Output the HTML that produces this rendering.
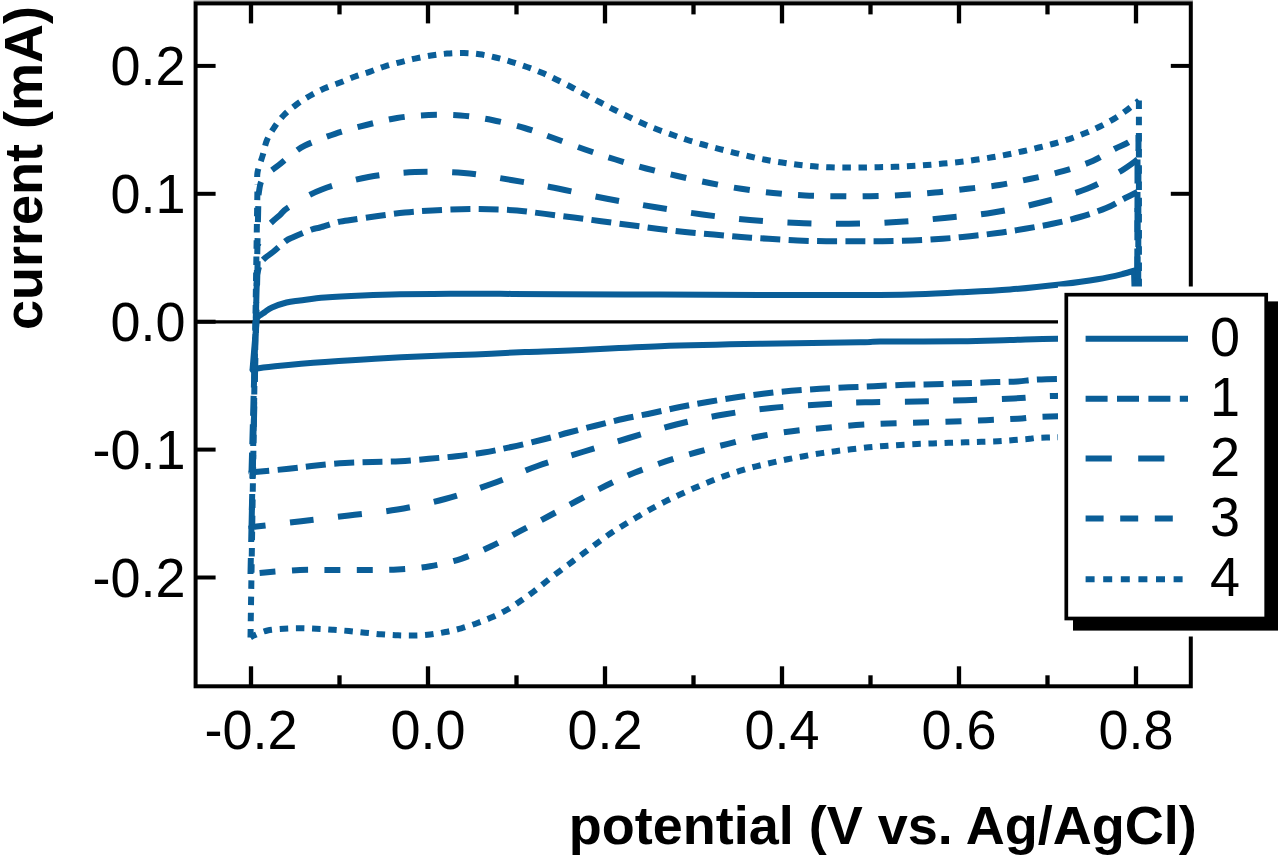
<!DOCTYPE html>
<html><head><meta charset="utf-8"><title>Cyclic voltammogram</title>
<style>
html,body{margin:0;padding:0;background:#fff;}
body{width:1280px;height:859px;overflow:hidden;}
svg{display:block;}
text{font-family:"Liberation Sans",Arial,Helvetica,sans-serif;fill:#000;}
</style></head>
<body>
<svg width="1280" height="859" viewBox="0 0 1280 859">
<rect x="0" y="0" width="1280" height="859" fill="#fff"/>
<rect x="193.5" y="0" width="999.5" height="1.7" fill="#b9b9b9"/>
<!-- zero line -->
<line x1="195.6" y1="321.9" x2="1190.8" y2="321.9" stroke="#000" stroke-width="3.4"/>
<!-- curves -->
<g fill="none" stroke="#0a5e98" stroke-width="6">
<path d="M256.5,322.0 C256.7,321.2 256.1,319.2 257.5,317.5 C258.9,315.8 262.6,313.7 265.0,312.0 C267.4,310.3 268.4,309.1 272.0,307.5 C275.6,305.9 281.8,303.7 286.5,302.5 C291.2,301.3 293.6,301.3 300.0,300.5 C306.4,299.7 314.6,298.3 325.0,297.5 C335.4,296.7 350.0,296.0 362.5,295.5 C375.0,295.0 385.4,294.6 400.0,294.3 C414.6,294.0 433.3,293.9 450.0,293.8 C466.7,293.7 481.7,293.7 500.0,293.8 C518.3,293.9 533.3,294.2 560.0,294.3 C586.7,294.4 626.7,294.4 660.0,294.5 C693.3,294.6 726.7,294.9 760.0,295.0 C793.3,295.1 835.0,295.1 860.0,295.0 C885.0,294.9 893.3,294.9 910.0,294.5 C926.7,294.1 943.3,293.1 960.0,292.3 C976.7,291.5 993.3,290.8 1010.0,289.5 C1026.7,288.2 1045.4,286.2 1060.0,284.5 C1074.6,282.8 1087.1,281.1 1097.5,279.3 C1107.9,277.6 1116.4,275.5 1122.5,274.0 C1128.6,272.5 1132.1,271.1 1134.0,270.5 L1136.0,338.5 L1136.0,338.5 C1122.9,338.5 1078.5,338.5 1057.5,338.8 C1036.5,339.0 1026.2,339.6 1010.0,340.0 C993.8,340.4 981.7,341.0 960.0,341.2 C938.3,341.5 896.7,341.3 880.0,341.5 C863.3,341.7 880.0,341.9 860.0,342.3 C840.0,342.7 793.3,343.1 760.0,343.8 C726.7,344.4 691.7,345.1 660.0,346.2 C628.3,347.4 592.5,349.5 570.0,350.5 C547.5,351.5 540.8,351.3 525.0,352.0 C509.2,352.7 491.7,353.8 475.0,354.5 C458.3,355.2 441.7,355.5 425.0,356.2 C408.3,357.0 391.7,357.8 375.0,358.8 C358.3,359.7 341.7,360.8 325.0,362.0 C308.3,363.2 286.7,365.1 275.0,366.2 C263.3,367.4 258.8,368.1 255.0,368.8 C251.2,369.4 252.9,369.8 252.5,370.0 L256.5,322.0" stroke-linejoin="round"/>
<path id="c1_lv" d="M251.5,472.5 L257.0,275.0" stroke-dasharray="20.00 8.30" stroke-dashoffset="0.00"/>
<path id="c1_up" d="M257.0,275.0 C257.5,273.2 258.7,266.8 260.0,264.0 C261.3,261.2 262.8,260.0 265.0,258.0 C267.2,256.0 269.5,254.8 273.0,252.0 C276.5,249.2 282.6,243.4 285.8,241.0 C289.1,238.6 288.2,239.4 292.5,237.5 C296.8,235.6 307.1,231.2 311.7,229.5 C316.3,227.8 315.8,228.7 320.0,227.5 C324.2,226.3 332.2,223.5 336.8,222.3 C341.4,221.1 340.9,221.5 347.5,220.5 C354.1,219.5 366.7,217.6 376.2,216.2 C385.8,214.9 395.6,213.5 405.0,212.5 C414.4,211.5 423.1,211.0 432.5,210.5 C441.9,210.0 451.9,209.5 461.2,209.2 C470.6,209.0 479.5,209.0 488.8,209.2 C498.0,209.5 507.6,209.7 517.0,210.5 C526.4,211.3 535.5,212.7 545.0,213.9 C554.5,215.1 564.4,216.3 573.8,217.5 C583.1,218.7 592.0,220.0 601.2,221.2 C610.5,222.5 620.2,223.8 629.5,225.0 C638.8,226.2 647.8,227.6 657.0,228.8 C666.2,229.9 675.5,231.0 685.0,232.0 C694.5,233.0 704.4,233.7 713.8,234.5 C723.1,235.3 732.1,236.3 741.2,237.0 C750.4,237.7 759.4,238.2 768.8,238.8 C778.1,239.3 787.9,240.1 797.5,240.5 C807.1,240.9 816.7,241.1 826.2,241.2 C835.8,241.4 845.6,241.2 855.0,241.2 C864.4,241.2 872.9,241.4 882.5,241.2 C892.1,241.1 902.5,240.9 912.5,240.5 C922.5,240.1 932.9,239.5 942.5,238.8 C952.1,238.0 960.8,237.2 970.0,236.2 C979.2,235.3 988.3,234.2 997.5,233.0 C1006.7,231.8 1015.8,230.3 1025.0,228.8 C1034.2,227.2 1043.3,225.7 1052.5,223.8 C1061.7,221.8 1071.0,219.6 1080.0,217.0 C1089.0,214.4 1099.0,211.0 1106.2,208.0 C1113.5,205.0 1118.3,201.7 1123.5,199.0 C1128.7,196.3 1135.2,193.2 1137.5,192.0" stroke-dasharray="20.00 8.34" stroke-dashoffset="11.66"/>
<path id="c1_rv" d="M1137.5,192.0 L1137.0,378.0" stroke-dasharray="20.00 8.30" stroke-dashoffset="0.00"/>
<path id="c1_lo" d="M1137.0,378.0 C1121.9,378.2 1066.4,378.6 1046.5,379.2 C1026.6,379.8 1027.2,380.9 1017.7,381.4 C1008.2,381.9 999.0,382.0 989.7,382.3 C980.4,382.6 971.1,383.0 961.8,383.3 C952.5,383.6 943.1,383.9 933.8,384.2 C924.5,384.4 915.9,384.5 905.9,384.8 C895.9,385.1 883.3,385.8 873.8,386.2 C864.2,386.7 857.7,386.9 848.8,387.3 C839.8,387.7 829.6,388.2 820.0,388.8 C810.4,389.3 800.8,390.0 791.2,390.8 C781.8,391.6 772.4,392.6 763.0,393.8 C753.6,394.9 744.2,396.1 735.0,397.5 C725.8,398.9 716.7,400.4 707.5,402.0 C698.3,403.6 689.2,405.2 680.0,407.0 C670.8,408.8 661.9,411.0 652.5,413.0 C643.1,415.0 633.1,416.7 623.8,418.8 C614.4,420.8 605.4,423.2 596.2,425.5 C587.1,427.8 577.3,430.2 568.8,432.5 C560.2,434.8 554.6,436.6 545.0,439.0 C535.4,441.4 521.5,444.8 511.2,447.0 C501.0,449.2 492.9,451.0 483.8,452.5 C474.6,454.0 465.4,455.2 456.2,456.2 C447.1,457.3 438.1,457.9 428.8,458.8 C419.4,459.6 409.4,460.7 400.0,461.2 C390.6,461.8 381.7,461.7 372.5,462.0 C363.3,462.3 354.4,462.4 345.0,463.0 C335.6,463.6 325.6,464.5 316.2,465.5 C306.9,466.5 299.0,467.7 288.8,468.8 C278.5,469.8 261.2,471.4 255.0,472.0 C248.8,472.6 252.1,472.4 251.5,472.5" stroke-dasharray="20.00 8.41" stroke-dashoffset="5.28"/>
<path id="c2_lv" d="M251.5,527.5 L258.0,245.0" stroke-dasharray="24.00 24.50" stroke-dashoffset="0.00"/>
<path id="c2_up" d="M258.0,245.0 C258.7,242.8 259.7,235.8 262.0,232.0 C264.3,228.2 268.9,224.8 271.9,222.0 C274.9,219.2 277.1,217.5 280.0,215.0 C282.9,212.5 282.1,211.2 289.0,207.0 C295.9,202.8 307.9,194.7 321.2,189.7 C334.4,184.7 352.9,179.9 368.5,177.0 C384.1,174.1 399.1,172.7 415.0,172.0 C430.9,171.3 447.7,171.7 463.8,173.0 C479.8,174.3 496.9,177.7 511.2,180.0 C525.6,182.3 534.0,183.9 550.0,187.0 C566.0,190.1 589.6,195.4 607.0,198.8 C624.4,202.1 638.6,204.4 654.5,207.0 C670.4,209.6 686.6,212.3 702.5,214.5 C718.4,216.7 734.0,218.6 750.0,220.0 C766.0,221.4 782.5,222.4 798.8,223.0 C815.0,223.6 831.2,223.9 847.5,223.8 C863.8,223.6 880.1,223.0 896.2,222.0 C912.4,221.0 928.3,219.6 944.5,218.0 C960.7,216.4 977.2,215.1 993.2,212.5 C1009.3,209.9 1025.1,206.5 1040.8,202.5 C1056.4,198.5 1073.9,193.8 1087.0,188.8 C1100.1,183.7 1110.9,176.9 1119.3,172.0 C1127.7,167.1 1134.5,161.6 1137.5,159.5" stroke-dasharray="24.00 24.49" stroke-dashoffset="22.35"/>
<path id="c2_rv" d="M1137.5,159.5 L1137.5,395.0" stroke-dasharray="24.00 24.50" stroke-dashoffset="0.00"/>
<path id="c2_lo" d="M1137.5,395.0 C1123.7,395.1 1075.5,395.3 1054.9,395.9 C1034.3,396.5 1028.8,397.7 1013.9,398.4 C999.0,399.1 981.6,399.7 965.5,400.2 C949.4,400.7 933.9,401.1 917.1,401.5 C900.4,401.9 881.2,401.8 865.0,402.3 C848.8,402.8 835.6,403.6 820.0,404.5 C804.4,405.4 787.3,406.3 771.2,408.0 C755.2,409.7 739.6,411.8 723.8,414.5 C707.9,417.2 692.1,420.6 676.2,424.5 C660.4,428.4 644.4,433.4 628.8,438.0 C613.1,442.6 597.7,447.3 582.5,452.0 C567.3,456.7 552.7,460.7 537.5,466.0 C522.3,471.3 506.7,478.5 491.2,484.0 C475.8,489.5 460.6,494.8 445.0,499.0 C429.4,503.2 413.5,506.8 397.5,509.5 C381.5,512.2 364.8,513.5 348.8,515.5 C332.7,517.5 316.6,519.4 301.2,521.2 C285.9,523.1 264.7,525.5 256.4,526.5 C248.1,527.5 252.3,527.3 251.5,527.5" stroke-dasharray="24.00 24.48" stroke-dashoffset="33.46"/>
<path id="c3_lv" d="M250.5,574.0 L258.5,195.0" stroke-dasharray="16.00 16.00" stroke-dashoffset="0.00"/>
<path id="c3_up" d="M258.5,195.0 C258.9,192.8 259.6,185.5 261.0,182.0 C262.4,178.5 264.0,176.8 267.0,174.0 C270.0,171.2 274.8,168.2 278.8,165.0 C282.8,161.8 286.6,158.2 291.0,155.0 C295.4,151.8 297.7,149.0 305.0,145.5 C312.3,142.0 324.8,137.2 335.0,133.8 C345.2,130.3 355.9,127.6 366.2,125.0 C376.6,122.4 386.6,119.7 397.0,118.0 C407.4,116.3 418.2,115.4 428.8,115.0 C439.3,114.6 450.0,114.7 460.5,115.5 C471.0,116.3 481.3,117.9 492.0,120.0 C502.7,122.1 514.5,125.1 524.5,128.0 C534.5,130.9 541.9,133.9 552.0,137.5 C562.1,141.1 574.4,145.8 585.0,149.5 C595.6,153.2 605.3,156.3 615.5,159.5 C625.7,162.7 635.9,165.8 646.2,168.5 C656.6,171.2 667.0,173.6 677.5,176.0 C688.0,178.4 698.9,180.9 709.5,183.0 C720.1,185.1 730.6,187.1 741.2,188.8 C751.9,190.4 762.6,191.9 773.2,193.0 C783.9,194.1 794.3,195.0 805.0,195.5 C815.7,196.0 826.7,196.1 837.5,196.2 C848.3,196.4 859.2,196.5 870.0,196.2 C880.8,196.0 891.7,195.6 902.5,195.0 C913.3,194.4 924.2,193.5 935.0,192.5 C945.8,191.5 956.8,190.0 967.5,188.8 C978.2,187.5 989.0,186.7 999.5,185.0 C1010.0,183.3 1020.2,181.0 1030.8,178.8 C1041.3,176.5 1052.6,174.2 1063.0,171.2 C1073.4,168.2 1084.7,164.5 1093.2,160.8 C1101.8,157.0 1108.5,152.1 1114.4,149.0 C1120.3,145.9 1124.4,144.7 1128.4,142.4 C1132.4,140.1 1136.8,136.2 1138.5,135.0" stroke-dasharray="16.00 16.30" stroke-dashoffset="2.58"/>
<path id="c3_rv" d="M1138.5,135.0 L1138.0,415.0" stroke-dasharray="16.00 16.00" stroke-dashoffset="0.00"/>
<path id="c3_lo" d="M1138.0,415.0 C1123.4,415.2 1070.3,415.8 1050.3,416.4 C1030.2,417.0 1028.4,418.1 1017.7,418.7 C1007.0,419.3 996.7,419.7 986.0,420.2 C975.3,420.7 964.3,421.1 953.4,421.5 C942.5,421.9 931.7,422.3 920.8,422.6 C909.9,422.9 899.0,423.1 888.2,423.5 C877.4,423.9 867.0,424.2 856.2,425.0 C845.5,425.8 834.5,427.0 823.8,428.0 C813.0,429.0 802.6,429.9 792.0,431.2 C781.4,432.6 770.7,434.2 760.0,436.2 C749.3,438.3 738.4,441.1 728.0,443.8 C717.6,446.4 707.8,449.1 697.5,452.0 C687.2,454.9 676.7,457.8 666.2,461.2 C655.8,464.7 645.0,468.5 635.0,472.5 C625.0,476.5 615.8,480.8 606.2,485.5 C596.7,490.2 587.0,495.4 577.5,500.5 C568.0,505.6 558.6,510.9 549.0,516.0 C539.4,521.1 529.6,526.2 520.0,531.2 C510.4,536.3 501.0,541.7 491.2,546.2 C481.5,550.8 471.5,555.4 461.2,558.8 C451.0,562.1 440.6,564.5 430.0,566.2 C419.4,568.0 408.3,568.9 397.5,569.5 C386.7,570.1 375.8,569.9 365.0,570.0 C354.2,570.1 343.3,570.0 332.5,570.0 C321.7,570.0 311.2,569.6 300.0,570.0 C288.8,570.4 273.2,571.8 265.0,572.5 C256.8,573.2 252.9,573.8 250.5,574.0" stroke-dasharray="16.00 16.43" stroke-dashoffset="17.88"/>
<path id="c4_lv" d="M250.5,637.5 L257.5,185.0" stroke-dasharray="8.50 7.70" stroke-dashoffset="0.00"/>
<path id="c4_up" d="M257.5,185.0 C257.5,182.9 256.7,177.3 257.5,172.5 C258.3,167.7 260.9,161.4 262.5,156.0 C264.1,150.6 265.0,144.8 267.0,140.0 C269.0,135.2 271.7,131.2 274.5,127.0 C277.3,122.8 280.3,118.8 284.0,115.0 C287.7,111.2 292.1,107.8 296.5,104.5 C300.9,101.2 305.8,98.2 310.5,95.5 C315.2,92.8 319.8,90.5 324.7,88.3 C329.6,86.1 335.1,84.5 340.2,82.5 C345.3,80.5 350.2,78.3 355.2,76.5 C360.2,74.7 365.2,73.3 370.2,71.6 C375.2,69.9 380.0,67.8 385.0,66.3 C390.0,64.8 395.0,63.6 400.0,62.3 C405.0,61.0 409.8,59.7 415.0,58.6 C420.2,57.5 425.9,56.3 431.2,55.5 C436.6,54.7 441.6,54.0 447.0,53.6 C452.4,53.2 458.3,52.9 463.8,53.0 C469.2,53.1 474.2,53.5 479.5,54.3 C484.8,55.0 490.2,56.2 495.5,57.5 C500.8,58.8 506.0,60.2 511.2,61.8 C516.5,63.4 521.9,65.2 527.0,67.0 C532.1,68.8 537.1,70.7 542.0,72.8 C546.9,74.9 551.4,77.1 556.2,79.5 C561.1,81.9 566.5,84.5 571.2,87.0 C576.0,89.5 580.3,92.0 585.0,94.5 C589.7,97.0 594.7,99.5 599.5,102.0 C604.3,104.5 609.0,107.1 613.8,109.5 C618.5,111.9 623.1,114.2 628.0,116.5 C632.9,118.8 638.1,121.3 643.0,123.5 C647.9,125.7 652.5,127.6 657.5,129.5 C662.5,131.4 668.0,133.2 673.0,135.0 C678.0,136.8 682.5,138.4 687.5,140.0 C692.5,141.6 697.8,143.0 703.0,144.5 C708.2,146.0 713.5,147.4 718.8,148.8 C724.0,150.1 729.3,151.5 734.5,152.8 C739.7,154.1 744.8,155.3 750.0,156.5 C755.2,157.7 760.2,158.8 765.5,159.8 C770.8,160.8 776.6,161.7 782.0,162.5 C787.4,163.3 792.7,164.2 798.0,164.8 C803.3,165.4 808.4,165.9 813.8,166.3 C819.1,166.7 824.6,167.1 830.0,167.3 C835.4,167.5 840.8,167.6 846.2,167.6 C851.7,167.6 857.1,167.6 862.5,167.5 C867.9,167.4 873.3,167.3 878.8,167.2 C884.2,167.1 889.6,167.0 895.0,166.8 C900.4,166.6 905.9,166.4 911.2,166.1 C916.6,165.8 921.7,165.4 927.0,165.0 C932.3,164.6 937.6,164.1 943.0,163.6 C948.4,163.1 954.1,162.6 959.5,162.0 C964.9,161.4 970.1,160.6 975.5,159.8 C980.9,159.0 986.7,158.2 992.0,157.3 C997.3,156.4 1002.3,155.5 1007.5,154.5 C1012.7,153.5 1017.8,152.4 1023.0,151.2 C1028.2,150.1 1033.5,148.8 1038.8,147.5 C1044.0,146.2 1049.3,145.0 1054.5,143.5 C1059.7,142.0 1064.8,140.5 1070.0,138.8 C1075.2,137.0 1080.5,135.0 1085.5,133.0 C1090.5,131.0 1095.2,128.9 1100.0,126.5 C1104.8,124.1 1109.8,121.4 1114.4,118.6 C1119.0,115.8 1123.6,112.5 1127.7,109.5 C1131.8,106.5 1137.0,102.0 1138.9,100.5" stroke-dasharray="8.50 7.63" stroke-dashoffset="8.04"/>
<path id="c4_rv" d="M1138.9,100.5 L1139.0,436.0" stroke-dasharray="8.50 7.70" stroke-dashoffset="0.00"/>
<path id="c4_lo" d="M1139.0,436.0 C1123.6,436.2 1064.7,437.0 1046.5,437.5 C1028.3,438.0 1035.2,438.4 1029.8,438.8 C1024.4,439.2 1019.2,439.7 1013.9,440.1 C1008.6,440.5 1003.5,440.9 998.1,441.2 C992.7,441.5 986.7,441.6 981.3,441.8 C975.9,442.0 970.9,442.1 965.5,442.3 C960.1,442.5 954.1,442.6 948.7,442.8 C943.3,443.0 938.2,443.2 932.9,443.4 C927.6,443.6 922.4,443.8 917.0,444.0 C911.6,444.2 905.7,444.6 900.3,444.9 C894.9,445.2 889.8,445.6 884.5,446.0 C879.2,446.4 874.1,446.8 868.6,447.3 C863.1,447.9 856.8,448.7 851.2,449.3 C845.7,449.9 840.7,450.5 835.5,451.2 C830.3,451.9 825.3,452.6 820.0,453.4 C814.7,454.2 809.2,455.2 803.8,456.2 C798.3,457.2 792.8,458.2 787.5,459.3 C782.2,460.4 777.2,461.4 772.0,462.6 C766.8,463.8 761.5,465.0 756.2,466.3 C751.0,467.6 745.7,469.1 740.5,470.7 C735.3,472.3 730.1,474.0 725.0,475.8 C719.9,477.6 715.0,479.5 710.0,481.5 C705.0,483.5 700.0,485.6 695.0,487.8 C690.0,490.0 684.9,492.2 680.0,494.5 C675.1,496.8 670.3,499.0 665.5,501.4 C660.7,503.8 655.9,506.3 651.2,508.9 C646.6,511.5 642.1,514.1 637.5,516.8 C632.9,519.5 628.3,522.2 623.8,525.0 C619.2,527.8 614.4,530.8 610.0,533.8 C605.6,536.8 601.7,539.7 597.5,542.8 C593.3,545.9 589.2,549.1 585.0,552.2 C580.8,555.3 576.7,558.4 572.5,561.5 C568.3,564.6 564.4,567.5 560.0,570.8 C555.6,574.1 550.6,578.0 546.2,581.5 C541.9,585.0 537.9,588.3 533.8,591.5 C529.6,594.7 525.6,597.5 521.2,600.5 C516.9,603.5 512.3,606.8 507.5,609.5 C502.7,612.2 497.5,614.8 492.5,617.0 C487.5,619.2 482.7,621.1 477.5,623.0 C472.3,624.9 466.6,626.8 461.2,628.3 C455.9,629.8 450.7,631.0 445.5,632.0 C440.3,633.0 435.3,633.9 430.0,634.5 C424.7,635.1 419.2,635.4 413.8,635.5 C408.3,635.6 402.9,635.5 397.5,635.3 C392.1,635.1 386.7,634.7 381.2,634.3 C375.8,633.9 370.4,633.2 365.0,632.7 C359.6,632.2 354.2,631.5 348.8,631.0 C343.3,630.5 337.9,630.2 332.5,629.8 C327.1,629.4 321.7,629.0 316.2,628.8 C310.8,628.5 305.4,628.3 300.0,628.3 C294.6,628.3 289.2,628.4 283.8,628.8 C278.3,629.2 272.3,629.5 267.5,630.5 C262.7,631.5 257.8,633.8 255.0,635.0 C252.2,636.2 251.2,637.1 250.5,637.5" stroke-dasharray="8.50 7.68" stroke-dashoffset="8.05"/>
</g>
<!-- frame -->
<rect x="195.6" y="3.4" width="995.2" height="682.9" fill="none" stroke="#000" stroke-width="4"/>
<g stroke="#000" stroke-width="3.8">
<line x1="251.0" y1="686.3" x2="251.0" y2="666.3" stroke-width="4.3"/>
<line x1="251.0" y1="3.4" x2="251.0" y2="23.4" stroke-width="4.3"/>
<line x1="339.5" y1="686.3" x2="339.5" y2="675.3" stroke-width="4.3"/>
<line x1="339.5" y1="3.4" x2="339.5" y2="14.4" stroke-width="4.3"/>
<line x1="428.0" y1="686.3" x2="428.0" y2="666.3" stroke-width="4.3"/>
<line x1="428.0" y1="3.4" x2="428.0" y2="23.4" stroke-width="4.3"/>
<line x1="516.5" y1="686.3" x2="516.5" y2="675.3" stroke-width="4.3"/>
<line x1="516.5" y1="3.4" x2="516.5" y2="14.4" stroke-width="4.3"/>
<line x1="605.0" y1="686.3" x2="605.0" y2="666.3" stroke-width="4.3"/>
<line x1="605.0" y1="3.4" x2="605.0" y2="23.4" stroke-width="4.3"/>
<line x1="693.5" y1="686.3" x2="693.5" y2="675.3" stroke-width="4.3"/>
<line x1="693.5" y1="3.4" x2="693.5" y2="14.4" stroke-width="4.3"/>
<line x1="782.0" y1="686.3" x2="782.0" y2="666.3" stroke-width="4.3"/>
<line x1="782.0" y1="3.4" x2="782.0" y2="23.4" stroke-width="4.3"/>
<line x1="870.5" y1="686.3" x2="870.5" y2="675.3" stroke-width="4.3"/>
<line x1="870.5" y1="3.4" x2="870.5" y2="14.4" stroke-width="4.3"/>
<line x1="959.0" y1="686.3" x2="959.0" y2="666.3" stroke-width="4.3"/>
<line x1="959.0" y1="3.4" x2="959.0" y2="23.4" stroke-width="4.3"/>
<line x1="1047.5" y1="686.3" x2="1047.5" y2="675.3" stroke-width="4.3"/>
<line x1="1047.5" y1="3.4" x2="1047.5" y2="14.4" stroke-width="4.3"/>
<line x1="1136.0" y1="686.3" x2="1136.0" y2="666.3" stroke-width="4.3"/>
<line x1="1136.0" y1="3.4" x2="1136.0" y2="23.4" stroke-width="4.3"/>
<line x1="195.6" y1="65.9" x2="215.6" y2="65.9" stroke-width="4"/>
<line x1="1190.8" y1="65.9" x2="1170.8" y2="65.9" stroke-width="4"/>
<line x1="195.6" y1="193.8" x2="215.6" y2="193.8" stroke-width="4"/>
<line x1="1190.8" y1="193.8" x2="1170.8" y2="193.8" stroke-width="4"/>
<line x1="195.6" y1="321.7" x2="215.6" y2="321.7" stroke-width="4"/>
<line x1="1190.8" y1="321.7" x2="1170.8" y2="321.7" stroke-width="4"/>
<line x1="195.6" y1="449.6" x2="215.6" y2="449.6" stroke-width="4"/>
<line x1="1190.8" y1="449.6" x2="1170.8" y2="449.6" stroke-width="4"/>
<line x1="195.6" y1="577.5" x2="215.6" y2="577.5" stroke-width="4"/>
<line x1="1190.8" y1="577.5" x2="1170.8" y2="577.5" stroke-width="4"/>
</g>
<!-- legend -->
<rect x="1058" y="286.5" width="222" height="350" fill="#fff"/>
<rect x="1073" y="301.4" width="205" height="329.2" fill="#000"/>
<rect x="1066.3" y="294.7" width="199.9" height="323.8" fill="#fff" stroke="#000" stroke-width="3.7"/>
<line x1="1085.6" y1="338.7" x2="1188" y2="338.7" stroke="#0a5e98" stroke-width="6"/>
<text transform="translate(1210,355.9) scale(1,1.015)" font-size="54">0</text>
<line x1="1085.6" y1="398.8" x2="1188" y2="398.8" stroke="#0a5e98" stroke-width="6" stroke-dasharray="22 9.4"/>
<text transform="translate(1210,415.8) scale(1,1.015)" font-size="54">1</text>
<line x1="1085.6" y1="458.4" x2="1188" y2="458.4" stroke="#0a5e98" stroke-width="6" stroke-dasharray="26.2 26.4"/>
<text transform="translate(1210,475.7) scale(1,1.015)" font-size="54">2</text>
<line x1="1085.6" y1="518.6" x2="1188" y2="518.6" stroke="#0a5e98" stroke-width="6" stroke-dasharray="18 16.6"/>
<text transform="translate(1210,535.6) scale(1,1.015)" font-size="54">3</text>
<line x1="1085.6" y1="579.3" x2="1188" y2="579.3" stroke="#0a5e98" stroke-width="6" stroke-dasharray="9 8.6"/>
<text transform="translate(1210,595.5) scale(1,1.015)" font-size="54">4</text>
<!-- tick labels -->
<g font-size="54">
<text transform="translate(185.5,85.1) scale(1,1.015)" text-anchor="end">0.2</text>
<text transform="translate(185.5,213.0) scale(1,1.015)" text-anchor="end">0.1</text>
<text transform="translate(185.5,340.9) scale(1,1.015)" text-anchor="end">0.0</text>
<text transform="translate(185.5,468.9) scale(1,1.015)" text-anchor="end">-0.1</text>
<text transform="translate(185.5,596.8) scale(1,1.015)" text-anchor="end">-0.2</text>
<text transform="translate(251.0,748.6) scale(1,1.015)" text-anchor="middle">-0.2</text>
<text transform="translate(428.0,748.6) scale(1,1.015)" text-anchor="middle">0.0</text>
<text transform="translate(605.0,748.6) scale(1,1.015)" text-anchor="middle">0.2</text>
<text transform="translate(782.0,748.6) scale(1,1.015)" text-anchor="middle">0.4</text>
<text transform="translate(959.0,748.6) scale(1,1.015)" text-anchor="middle">0.6</text>
<text transform="translate(1136.0,748.6) scale(1,1.015)" text-anchor="middle">0.8</text>
</g>
<!-- axis titles -->
<text x="1196.8" y="843.8" text-anchor="end" font-size="54" font-weight="bold">potential (V vs. Ag/AgCl)</text>
<text transform="translate(42,330) rotate(-90)" x="0" y="0" font-size="54" font-weight="bold">current (mA)</text>
</svg>
</body></html>
